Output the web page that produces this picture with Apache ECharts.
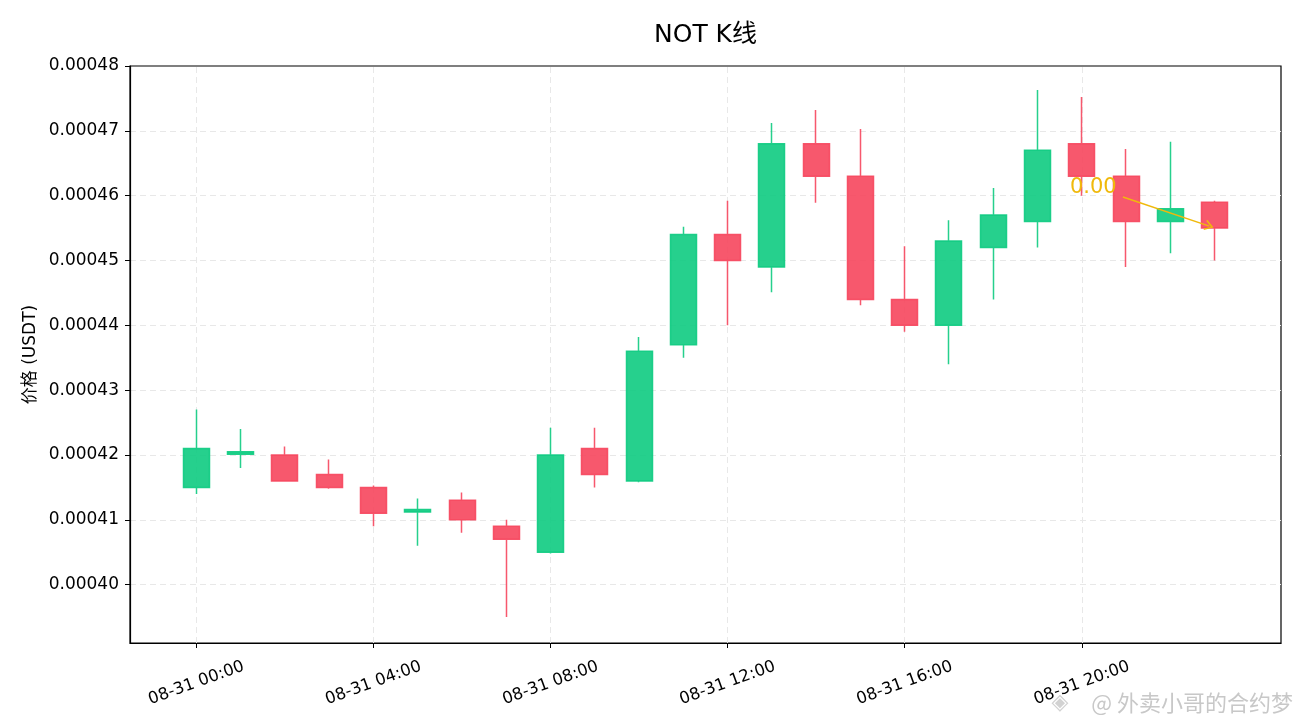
<!DOCTYPE html>
<html>
<head>
<meta charset="utf-8">
<script src="https://cdn.jsdelivr.net/npm/echarts@6/dist/echarts.min.js"></script>
<style>html,body{margin:0;padding:0;background:#fff;}#c{width:1300px;height:728px;}</style>
</head>
<body>
<div id="c"></div>
<script>
// ---- data ----
const times = ['08-31 00:00','08-31 01:00','08-31 02:00','08-31 03:00','08-31 04:00','08-31 05:00',
  '08-31 06:00','08-31 07:00','08-31 08:00','08-31 09:00','08-31 10:00','08-31 11:00',
  '08-31 12:00','08-31 13:00','08-31 14:00','08-31 15:00','08-31 16:00','08-31 17:00',
  '08-31 18:00','08-31 19:00','08-31 20:00','08-31 21:00','08-31 22:00','08-31 23:00'];
const opens  = [0.000415,0.0004201,0.000420,0.000417,0.000415,0.0004112,0.000413,0.000409,0.000405,0.000421,0.000416,0.000437,
                0.000454,0.000449,0.000468,0.000463,0.000444,0.000440,0.000452,0.000456,0.000468,0.000463,0.000456,0.000459];
const closes = [0.000421,0.0004205,0.000416,0.000415,0.000411,0.0004116,0.000410,0.000407,0.000420,0.000417,0.000436,0.000454,
                0.000450,0.000468,0.000463,0.000444,0.000440,0.000453,0.000457,0.000467,0.000463,0.000456,0.000458,0.000455];
const lows   = [0.000414,0.000418,0.0004159,0.0004148,0.000409,0.000406,0.000408,0.000395,0.0004048,0.000415,0.0004158,0.000435,
                0.000440,0.0004451,0.0004589,0.0004431,0.000439,0.000434,0.000444,0.000452,0.000460,0.000449,0.0004511,0.000450];
const highs  = [0.000427,0.000424,0.0004213,0.0004193,0.0004153,0.0004133,0.0004142,0.000410,0.0004242,0.0004242,0.0004382,0.0004552,
                0.0004592,0.0004712,0.0004732,0.0004703,0.0004522,0.0004562,0.0004612,0.0004763,0.0004752,0.0004672,0.0004683,0.0004592];
const xTickHours = [0,4,8,12,16,20];
const yTicks = ['0.00040','0.00041','0.00042','0.00043','0.00044','0.00045','0.00046','0.00047','0.00048'];
// annotation (matplotlib annotate): text position and arrow start/end, in (hour, price)
const annotText = '0.00';
const annotTextPos = [20.26, 0.0004612];
const annotArrowFrom = [20.93, 0.0004598];
const annotArrowTo = [22.88, 0.0004553];

const hours = times.map(t => parseInt(t.slice(6, 8), 10));
const candles = hours.map((h, i) => [h, opens[i], closes[i], lows[i], highs[i]]);

const FONT = "'DejaVu Sans', 'Noto Sans CJK SC', sans-serif";
const UP = '#0ECB81', DOWN = '#F6465D';
const GRIDC = '#e8e8e8';

const chart = echarts.init(document.getElementById('c'), null, {renderer: 'canvas'});
chart.setOption({
  animation: false,
  backgroundColor: '#ffffff',
  textStyle: {fontFamily: FONT},
  grid: {left: 130, right: 19, top: 66, bottom: 85, show: true, borderColor: '#000', borderWidth: 1.2,
         backgroundColor: 'transparent', containLabel: false, outerBoundsMode: 'none'},
  xAxis: {
    type: 'value', min: -1.5, max: 24.5,
    axisLine: {show: true, onZero: false, lineStyle: {color: '#000', width: 1.2}},
    axisTick: {show: true, length: 5, lineStyle: {color: '#000', width: 1}, customValues: xTickHours},
    axisLabel: {
      customValues: xTickHours, rotate: 20, align: 'center', verticalAlign: 'middle', margin: 40,
      color: '#000', fontSize: 16.5, fontFamily: FONT,
      formatter: v => times[hours.indexOf(Math.round(v))] || ''
    },
    splitLine: {show: false}
  },
  yAxis: {
    type: 'value', min: 0.000391, max: 0.00048, splitNumber: 9, scale: true,
    axisLine: {show: true, onZero: false, lineStyle: {color: '#000', width: 1.2}},
    axisTick: {show: true, length: 5, lineStyle: {color: '#000', width: 1}},
    axisLabel: {
      showMinLabel: false, color: '#000', fontSize: 17, fontFamily: FONT, margin: 11,
      formatter: v => { const s = v.toFixed(5); return yTicks.indexOf(s) >= 0 ? s : ''; }
    },
    splitLine: {show: true, showMinLine: false, showMaxLine: false, lineStyle: {type: [6, 4], color: GRIDC, width: 1}}
  },
  series: [
    {
      type: 'line', data: [], z: 0, silent: true,
      markLine: {
        silent: true, z: 0, symbol: ['none', 'none'], label: {show: false},
        lineStyle: {type: [6, 4], color: GRIDC, width: 1},
        data: xTickHours.map(h => ({xAxis: h}))
      }
    },
    {
      type: 'candlestick',
      data: candles,
      encode: {x: 0, y: [1, 2, 3, 4]},
      barWidth: 26.5,
      itemStyle: {color: UP, color0: DOWN, borderColor: UP, borderColor0: DOWN, borderWidth: 1.5, opacity: 0.9},
      z: 3
    },
    {
      type: 'line', data: [], z: 5, silent: true,
      markLine: {
        silent: true,
        symbol: ['none', 'path://M5,0 L10,9 L8.6,9.6 L5,3 L1.4,9.6 L0,9 Z'],
        symbolSize: [11, 9],
        label: {show: false},
        lineStyle: {type: 'solid', color: '#F0B90B', width: 1.5},
        data: [[{coord: annotArrowFrom}, {coord: annotArrowTo}]]
      },
      markPoint: {
        silent: true, symbol: 'rect', symbolSize: 1, itemStyle: {color: 'rgba(0,0,0,0)'},
        label: {show: true, position: 'inside', formatter: annotText, color: '#F0B90B', fontSize: 21, fontFamily: FONT},
        data: [{coord: annotTextPos}]
      }
    }
  ],
  graphic: [
    {type: 'text', x: 705.5, y: 35, style: {text: 'NOT K线', fill: '#000', font: "25px " + FONT, textAlign: 'center', textVerticalAlign: 'middle'}},
    {type: 'text', x: 31, y: 354.5, rotation: Math.PI / 2,
     style: {text: '价格 (USDT)', fill: '#000', font: "17px " + FONT, textAlign: 'center', textVerticalAlign: 'middle'}},
    {type: 'text', x: 1060, y: 703, z: 100,
     style: {text: '◈', fill: '#d2d2d2', stroke: '#ffffff', lineWidth: 2,
             font: "22px 'DejaVu Sans', sans-serif", textAlign: 'center', textVerticalAlign: 'middle'}},
    {type: 'text', x: 1293, y: 703, z: 100,
     style: {text: '@ 外卖小哥的合约梦', fill: '#c8c8c8', stroke: '#ffffff', lineWidth: 2,
             font: "22px 'Noto Sans CJK SC', sans-serif", textAlign: 'right', textVerticalAlign: 'middle'}}
  ]
});
</script>
</body>
</html>
